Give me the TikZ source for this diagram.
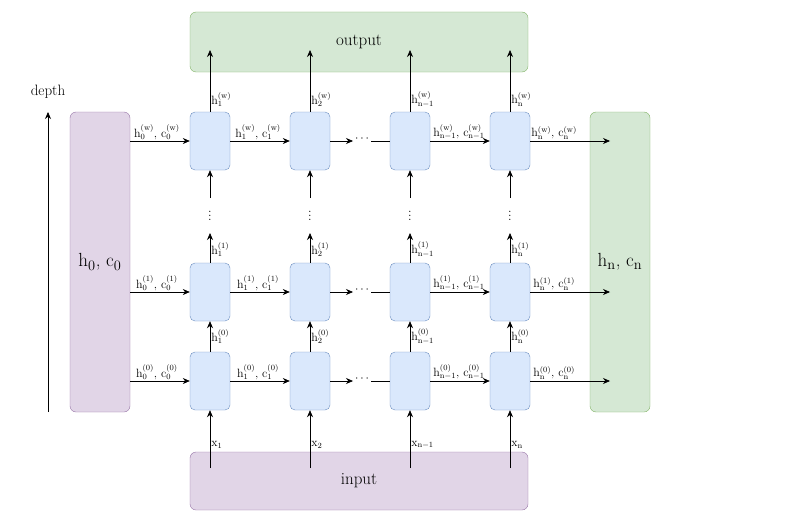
\documentclass[tikz,border=0pt]{standalone}
\usetikzlibrary{arrows.meta}
\definecolor{cellf}{HTML}{DAE8FC}\definecolor{celld}{HTML}{6C8EBF}
\definecolor{gf}{HTML}{D5E8D4}\definecolor{gd}{HTML}{82B366}
\definecolor{pf}{HTML}{E1D5E7}\definecolor{pd}{HTML}{9673A6}
\begin{document}
\begin{tikzpicture}[x=1pt,y=-1pt,
 cell/.style={draw=celld,fill=cellf,rounded corners=5pt,minimum width=40pt,minimum height=58pt,inner sep=0pt},
 gbox/.style={draw=gd,fill=gf,rounded corners=6pt,inner sep=0pt},
 pbox/.style={draw=pd,fill=pf,rounded corners=6pt,inner sep=0pt},
 ar/.style={-{Stealth[length=7pt,width=6pt]},line width=0.7pt},
 ln/.style={line width=0.7pt},
 lab/.style={font=\fontsize{12}{13}\selectfont,inner sep=1pt},
 dt/.style={font=\fontsize{13}{13}\selectfont,inner sep=0pt}]
\useasboundingbox (0,0) rectangle (794,519);
\node[gbox,minimum width=338pt,minimum height=60pt] (out) at (359,42) {\fontsize{17}{19}\selectfont output};
\node[pbox,minimum width=338pt,minimum height=58pt] (in) at (359,481) {\fontsize{17}{19}\selectfont input};
\node[pbox,minimum width=60pt,minimum height=300pt] (L) at (100,262) {\fontsize{19}{21}\selectfont h$_0$, c$_0$};
\node[gbox,minimum width=60pt,minimum height=300pt] (R) at (620,262) {\fontsize{19}{21}\selectfont h$_\mathrm{n}$, c$_\mathrm{n}$};
\node[font=\fontsize{15}{17}\selectfont] (depth) at (48,92) {depth};
\coordinate (d0) at (48,412); \coordinate (d1) at (48,112);
\draw[ar] (d0) -- (d1);
\foreach \c/\x in {1/210,2/310,3/410,4/510}{
 \node[cell] (t\c) at (\x,141) {};
 \node[cell] (m\c) at (\x,292) {};
 \node[cell] (b\c) at (\x,381) {};
 \node[dt] (vd\c) at (\x,213) {$\vdots$};
 \coordinate (vu\c) at (\x,233);
 \coordinate (vl\c) at (\x,198);
 \coordinate (ot\c) at (\x,50);
 \coordinate (ib\c) at (\x,468);
}
\foreach \c/\s in {1/1,2/2,3/{n-1},4/n}{
 \draw[ar] (t\c.north) -- (ot\c) node[lab,pos=0.2,right=0pt] {h$_{\mathrm{\s}}^{(\mathrm{w})}$};
 \draw[ar] (m\c.north) -- (vu\c) node[lab,pos=0.45,right=0pt] {h$_{\mathrm{\s}}^{(1)}$};
 \draw[ar] (vl\c) -- (t\c.south);
 \draw[ar] (b\c.north) -- (m\c.south) node[lab,midway,right=0pt] {h$_{\mathrm{\s}}^{(0)}$};
 \draw[ar] (ib\c) -- (b\c.south) node[lab,pos=0.4,right=0pt] {x$_{\mathrm{\s}}$};
}
\foreach \r/\y/\k in {t/141/\mathrm{w},m/292/1,b/381/0}{
 \coordinate (\r s) at (130,\y);
 \coordinate (\r e) at (610,\y);
 \node[dt,anchor=base] (\r dots) at (362,\y) {$\cdots$};
 \coordinate (\r da) at (353,\y);
 \coordinate (\r db) at (371,\y);
 \draw[ar] (\r s) -- (\r1.west) node[lab,midway,above,xshift=-3pt] {h$_0^{(\k)}$, c$_0^{(\k)}$};
 \draw[ar] (\r1.east) -- (\r2.west) node[lab,midway,above,xshift=-2pt] {h$_1^{(\k)}$, c$_1^{(\k)}$};
 \draw[ar] (\r2.east) -- (\r da);
 \draw[ln] (\r db) -- (\r3.west);
 \draw[ar] (\r3.east) -- (\r4.west) node[lab,midway,above,xshift=-1pt] {h$_{\mathrm{n-1}}^{(\k)}$, c$_{\mathrm{n-1}}^{(\k)}$};
 \draw[ar] (\r4.east) -- (\r e) node[lab,pos=0.3,above] {h$_\mathrm{n}^{(\k)}$, c$_\mathrm{n}^{(\k)}$};
}
\end{tikzpicture}
\end{document}
